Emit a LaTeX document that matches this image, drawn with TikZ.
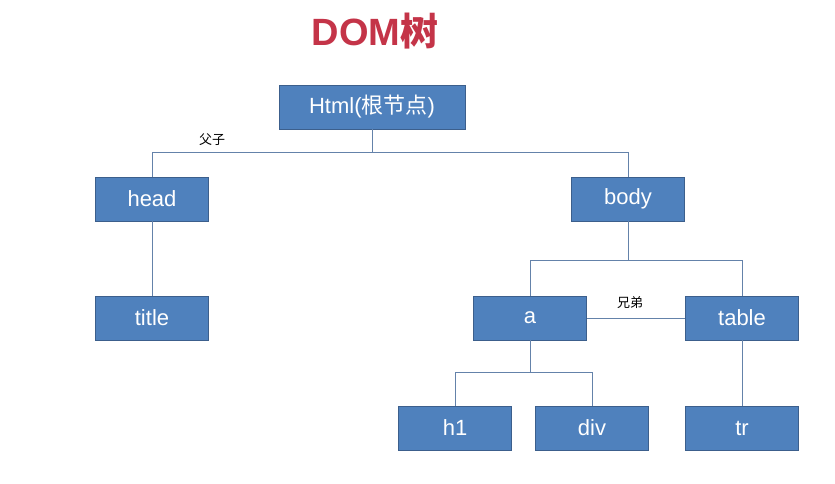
\documentclass[tikz,border=0pt]{standalone}
\usepackage{fontspec}
\setmainfont{Liberation Sans}
\newfontfamily\cjk{Noto Sans CJK SC}
\begin{document}
\begin{tikzpicture}[x=1pt,y=-1pt,
  box/.style={draw={rgb,255:red,60;green,95;blue,140}, line width=0.8pt, fill={rgb,255:red,79;green,129;blue,189}, text=white, minimum width=113pt, minimum height=44pt, inner sep=0pt, font=\fontsize{22}{24}\selectfont},
  con/.style={draw={rgb,255:red,100;green,130;blue,170}, line width=0.8pt},
  lab/.style={font=\cjk\fontsize{13}{15}\selectfont}]
\useasboundingbox (0,0) rectangle (835,483);
\node[font=\fontsize{38}{40}\selectfont\bfseries, text={rgb,255:red,196;green,52;blue,72}] (t) at (375,31) {DOM{\cjk 树}};
\node[box, minimum width=186pt] (html) at (372,107) {Html({\cjk 根节点})};
\node[box] (head) at (152,199) {head};
\node[box] (body) at (628,199) {body};
\node[box] (title) at (152,318) {title};
\node[box] (a) at (530,318) {a};
\node[box] (table) at (742,318) {table};
\node[box] (h1) at (455,428) {h1};
\node[box] (div) at (592,428) {div};
\node[box] (tr) at (742,428) {tr};
\coordinate (j1) at (372,152);
\coordinate (j2) at (628,260);
\coordinate (j3) at (530,372);
\draw[con] (html) -- (j1) -| (head);
\draw[con] (j1) -| (body);
\draw[con] (head) -- (title);
\draw[con] (body) -- (j2) -| (a);
\draw[con] (j2) -| (table);
\draw[con] (a) -- (table);
\draw[con] (a) -- (j3) -| (h1);
\draw[con] (j3) -| (div);
\draw[con] (table) -- (tr);
\node[lab] (l1) at (212,140) {父子};
\node[lab] (l2) at (630,303) {兄弟};
\end{tikzpicture}
\end{document}
